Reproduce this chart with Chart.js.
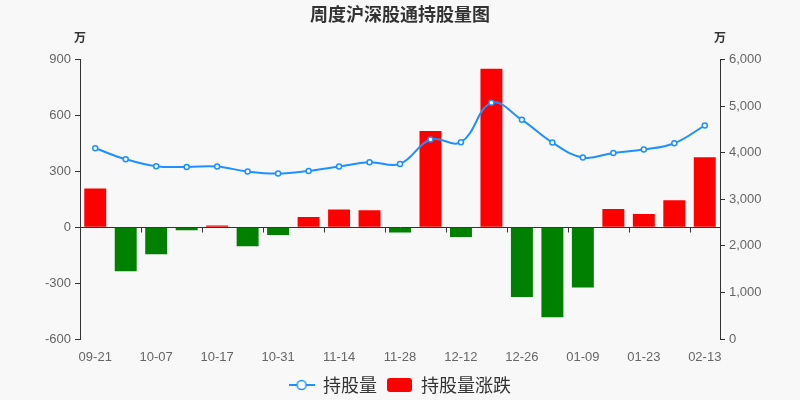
<!DOCTYPE html>
<html>
<head>
<meta charset="utf-8">
<script src="https://cdn.jsdelivr.net/npm/chart.js@4/dist/chart.umd.min.js"></script>
<style>
  html, body { margin: 0; padding: 0; background: #f8f8f8; }
  #wrap { width: 800px; height: 400px; }
</style>
</head>
<body>
<div id="wrap"><canvas id="c" width="800" height="400"></canvas></div>
<script>
const dates = ["09-21", "09-28", "10-07", "10-10", "10-17", "10-24", "10-31", "11-07", "11-14", "11-21", "11-28",
  "12-05", "12-12", "12-19", "12-26", "01-02", "01-09", "01-16", "01-23", "02-06", "02-13"];
// 持股量 (万)
const holdings = [4097, 3860, 3710, 3695, 3703, 3595, 3552, 3609, 3703, 3796, 3760,
  4284, 4226, 5071, 4706, 4219, 3897, 3996, 4069, 4204, 4585];
// 持股量涨跌 (万)
const changes = [208, -236, -145, -16, 9, -102, -41, 55, 95, 91, -28,
  517, -52, 851, -374, -483, -324, 98, 71, 145, 376];

const BLUE = "#1e90ff";
const UP = "#ff0000";
const DOWN = "#008000";

Chart.defaults.font.family = "'Liberation Sans', 'Noto Sans CJK SC', sans-serif";
Chart.defaults.color = "#666";

// legend icons
function lineIcon() {
  const c = document.createElement("canvas");
  c.width = 26; c.height = 12;
  const g = c.getContext("2d");
  g.strokeStyle = BLUE; g.lineWidth = 2;
  g.beginPath(); g.moveTo(0, 6); g.lineTo(26, 6); g.stroke();
  g.beginPath(); g.arc(13, 6, 4.5, 0, Math.PI * 2);
  g.fillStyle = "#fff"; g.fill(); g.lineWidth = 1.5; g.stroke();
  return c;
}
function barIcon() {
  const c = document.createElement("canvas");
  c.width = 25; c.height = 14;
  const g = c.getContext("2d");
  g.fillStyle = UP;
  g.beginPath(); g.roundRect(0, 0, 25, 14, 3); g.fill();
  return c;
}
const icons = [lineIcon(), barIcon()];

const bgPlugin = {
  id: "bg",
  beforeDraw(chart) {
    const ctx = chart.ctx;
    ctx.save();
    ctx.fillStyle = "#f8f8f8";
    ctx.fillRect(0, 0, chart.width, chart.height);
    ctx.restore();
  }
};

// units + small x tick marks hanging from the zero line
const extrasPlugin = {
  id: "extras",
  afterDraw(chart) {
    const ctx = chart.ctx;
    const area = chart.chartArea;
    const x = chart.scales.x, y = chart.scales.y;
    ctx.save();
    ctx.fillStyle = "#333";
    ctx.font = "bold 12px 'Noto Sans CJK SC', sans-serif";
    ctx.textAlign = "center";
    ctx.textBaseline = "middle";
    ctx.fillText("万", area.left, 37);
    ctx.fillText("万", area.right, 37);

    const zy = Math.round(y.getPixelForValue(0)) + 0.5;
    ctx.strokeStyle = "#333";
    ctx.lineWidth = 1;
    ctx.beginPath();
    for (let i = 2; i < dates.length; i += 2) {
      const px = Math.round((x.getPixelForValue(i - 1) + x.getPixelForValue(i)) / 2) + 0.5;
      ctx.moveTo(px, zy);
      ctx.lineTo(px, zy + 5);
    }
    ctx.stroke();
    ctx.restore();
  }
};

new Chart(document.getElementById("c"), {
  data: {
    labels: dates,
    datasets: [
      {
        type: "line",
        label: "持股量",
        data: holdings,
        yAxisID: "y1",
        borderColor: BLUE,
        borderWidth: 2,
        tension: 0.4,
        pointRadius: 2.5,
        pointBackgroundColor: "#fff",
        pointBorderColor: BLUE,
        pointBorderWidth: 1.5,
        order: 0
      },
      {
        type: "bar",
        label: "持股量涨跌",
        data: changes,
        yAxisID: "y",
        backgroundColor: (c) => (c.raw >= 0 ? UP : DOWN),
        order: 1
      }
    ]
  },
  options: {
    responsive: false,
    animation: false,
    layout: { padding: { left: 0, right: 0, top: 0, bottom: -4 } },
    plugins: {
      title: {
        display: true,
        text: "周度沪深股通持股量图",
        color: "#333",
        font: { size: 18, weight: "bold", family: "'Noto Sans CJK SC', sans-serif" },
        padding: { top: 3, bottom: 35 }
      },
      legend: {
        position: "bottom",
        labels: {
          usePointStyle: true,
          pointStyleWidth: 25,
          padding: 10,
          color: "#333",
          font: { size: 18, family: "'Noto Sans CJK SC', sans-serif" },
          generateLabels: (chart) => chart.data.datasets.map((ds, i) => ({
            text: ds.label,
            pointStyle: icons[i],
            fillStyle: "transparent",
            strokeStyle: "transparent",
            lineWidth: 0,
            datasetIndex: i,
            fontColor: "#333"
          }))
        }
      },
      tooltip: { enabled: false }
    },
    scales: {
      x: {
        grid: { display: false },
        border: { display: false },
        ticks: {
          autoSkip: false,
          maxRotation: 0,
          padding: 3,
          font: { size: 13 },
          callback: (v, i) => (i % 2 === 0 ? dates[i] : "")
        },
        afterFit: (s) => { s.height = 27; }
      },
      y: {
        position: "left",
        min: -600,
        max: 900,
        ticks: { stepSize: 300, padding: 4, font: { size: 13 } },
        grid: {
          drawOnChartArea: true,
          color: (c) => (c.tick && c.tick.value === 0 ? "#333" : "transparent"),
          tickColor: "#333",
          tickLength: 5
        },
        border: { display: true, color: "#333" },
        afterFit: (s) => { s.width = 80; }
      },
      y1: {
        position: "right",
        min: 0,
        max: 6000,
        ticks: { stepSize: 1000, padding: 4, font: { size: 13 } },
        grid: { drawOnChartArea: false, tickColor: "#333", tickLength: 5 },
        border: { display: true, color: "#333" },
        afterFit: (s) => { s.width = 80; }
      }
    }
  },
  plugins: [bgPlugin, extrasPlugin]
});
</script>
</body>
</html>
